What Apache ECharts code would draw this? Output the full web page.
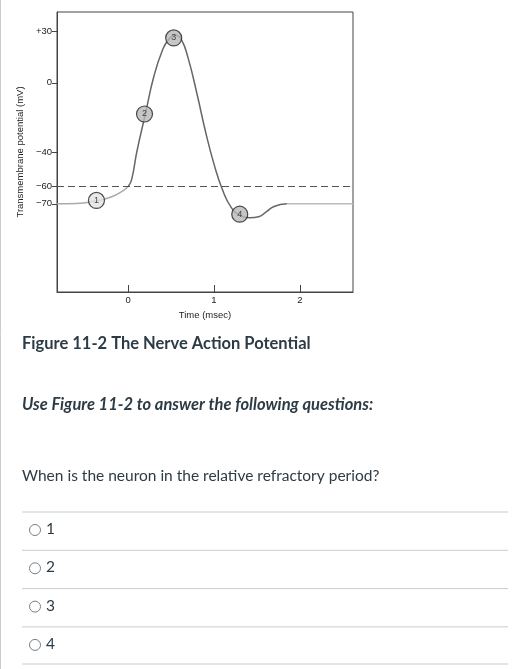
<!DOCTYPE html>
<html>
<head>
<meta charset="utf-8">
<script src="https://cdn.jsdelivr.net/npm/echarts@6/dist/echarts.min.js"></script>
<style>
  html, body { margin: 0; padding: 0; background: #fff; }
  #container { width: 523px; height: 669px; }
</style>
</head>
<body>
<div id="container"></div>
<script>
"use strict";

// action potential trace (time in msec, potential in mV)
var restBefore = [[-0.83, -70], [-0.6, -69.8], [-0.4, -68.5], [-0.2, -66], [-0.05, -62], [0, -60]];
var spike = [[0, -60], [0.04, -56], [0.1, -40], [0.2, -18], [0.3, 4], [0.4, 19], [0.47, 25], [0.55, 27.5],
    [0.62, 25], [0.7, 14], [0.8, -6], [0.9, -28], [1.0, -47], [1.1, -62], [1.2, -72], [1.3, -76.5],
    [1.42, -78], [1.52, -77.5], [1.6, -75], [1.7, -71.5], [1.85, -70]];
var restAfter = [[1.85, -70], [2.62, -70]];
var markers = [[-0.37, -68, '1'], [0.19, -18, '2'], [0.53, 26, '3'], [1.3, -76, '4']];
var yTicks = [30, 0, -40, -60, -70];
var xTicks = [0, 1, 2];
var options = ['1', '2', '3', '4'];

var dom = document.getElementById("container");
var myChart = echarts.init(dom);

var textColor = '#2d3b45';
var graphics = [
    { type: 'text', left: 22, top: 335, style: { text: 'Figure 11-2 The Nerve Action Potential', font: 'bold 16.5px Lato', fill: textColor } },
    { type: 'text', left: 22, top: 396, style: { text: 'Use Figure 11-2 to answer the following questions:', font: 'italic bold 16.5px Lato', fill: textColor } },
    { type: 'text', left: 22, top: 468, style: { text: 'When is the neuron in the relative refractory period?', font: '15.5px Lato', fill: textColor } },
    { type: 'line', shape: { x1: 0.5, y1: 0, x2: 0.5, y2: 669 }, style: { stroke: '#c7cdd1', lineWidth: 1 } }
];
options.forEach(function (o, i) {
    var y = 530 + i * 38.3;
    graphics.push({ type: 'line', shape: { x1: 22, y1: y - 18, x2: 508, y2: y - 18 }, style: { stroke: '#c7cdd1', lineWidth: 1 } });
    graphics.push({ type: 'circle', shape: { cx: 35, cy: y, r: 5.5 }, style: { fill: '#fff', stroke: '#73818b', lineWidth: 1 } });
    graphics.push({ type: 'text', left: 46, top: y - 9, style: { text: o, font: '15.5px Lato', fill: textColor } });
});
graphics.push({ type: 'line', shape: { x1: 22, y1: 664, x2: 508, y2: 664 }, style: { stroke: '#c7cdd1', lineWidth: 1 } });

var option = {
    animation: false,
    grid: { left: 57, top: 12, width: 296, height: 280, show: true, borderColor: '#444', borderWidth: 1, backgroundColor: 'transparent' },
    xAxis: {
        type: 'value', min: -0.83, max: 2.62,
        name: 'Time (msec)', nameLocation: 'middle', nameGap: 18,
        nameTextStyle: { fontSize: 9.5, color: '#222', fontFamily: 'Liberation Sans' },
        axisLine: { onZero: false, lineStyle: { color: '#444' } },
        axisTick: { inside: true, length: 7, lineStyle: { color: '#444' }, customValues: xTicks },
        axisLabel: { fontSize: 9.5, color: '#222', margin: 3, customValues: xTicks, fontFamily: 'Liberation Sans' },
        splitLine: { show: false }
    },
    yAxis: {
        type: 'value', min: -121, max: 41,
        name: 'Transmembrane potential (mV)', nameLocation: 'middle', nameGap: 28,
        nameTextStyle: { fontSize: 9.5, color: '#222', fontFamily: 'Liberation Sans' },
        axisLine: { onZero: false, lineStyle: { color: '#444' } },
        axisTick: { length: 5, lineStyle: { color: '#444' }, customValues: yTicks },
        axisLabel: {
            fontSize: 9.5, color: '#222', margin: 5, customValues: yTicks, fontFamily: 'Liberation Sans',
            formatter: function (v) { return v > 0 ? '+' + v : (v < 0 ? '\u2212' + (-v) : '' + v); }
        },
        splitLine: { show: false }
    },
    graphic: graphics,
    series: [
        { type: 'line', data: restBefore, showSymbol: false, smooth: true, lineStyle: { color: '#aaa', width: 1.5 } },
        {
            type: 'line', data: spike, showSymbol: false, smooth: true, lineStyle: { color: '#666', width: 1.5 },
            markLine: {
                silent: true, symbol: 'none', label: { show: false },
                lineStyle: { color: '#555', type: [7, 4], width: 1 },
                data: [{ yAxis: -60 }]
            }
        },
        { type: 'line', data: restAfter, showSymbol: false, lineStyle: { color: '#bbb', width: 1.5 } },
        {
            type: 'scatter', data: markers, symbolSize: 16, z: 5,
            itemStyle: {
                borderColor: '#222', borderWidth: 1.2,
                color: function (p) { return p.dataIndex === 0 ? '#e4e4e4' : '#b8b8b8'; }
            },
            label: {
                show: true, formatter: function (p) { return p.value[2]; }, fontSize: 9,
                fontFamily: 'Liberation Sans', color: '#222', position: 'inside'
            }
        }
    ]
};

myChart.setOption(option);
</script>
</body>
</html>
